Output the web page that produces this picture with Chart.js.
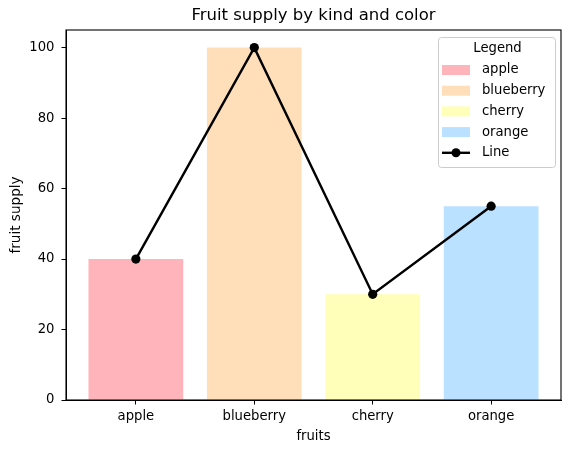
<!DOCTYPE html>
<html>
<head>
<meta charset="utf-8">
<script src="https://cdn.jsdelivr.net/npm/chart.js@4"></script>
<style>
  html, body { margin: 0; padding: 0; background: #fff; }
  #wrap { width: 571px; height: 453px; }
</style>
</head>
<body>
<div id="wrap"><canvas id="myChart"></canvas></div>
<script>
const fruits = ['apple', 'blueberry', 'cherry', 'orange'];
const supply = [40, 100, 30, 55];
const barColors = ['#ffb3ba', '#ffdfba', '#ffffba', '#bae1ff'];
const yTicks = [0, 20, 40, 60, 80, 100];
const chartTitle = 'Fruit supply by kind and color';

const FONT = 'DejaVu Sans';
const TICK_SIZE = 13.2;
const ctx = document.getElementById('myChart');

// frame, title over the axes and legend box like matplotlib
const framePlugin = {
  id: 'frame',
  afterDatasetsDraw(chart) {
    const a = chart.chartArea;
    const c = chart.ctx;
    c.save();
    c.strokeStyle = '#000';
    c.lineWidth = 1.1;
    c.strokeRect(a.left, a.top, a.right - a.left, a.bottom - a.top);
    c.restore();
  },
  afterDraw(chart) {
    const a = chart.chartArea;
    const c = chart.ctx;
    c.save();
    c.fillStyle = '#000';
    c.font = '16.5px "' + FONT + '"';
    c.textAlign = 'center';
    c.textBaseline = 'middle';
    c.fillText(chartTitle, (a.left + a.right) / 2, 15.5);

    const x0 = a.right - 123, y0 = a.top + 7, w = 117, h = 130;
    c.fillStyle = 'rgba(255,255,255,0.8)';
    c.strokeStyle = '#cccccc';
    c.lineWidth = 1;
    c.beginPath();
    c.roundRect(x0 + 0.5, y0 + 0.5, w, h, 3);
    c.fill();
    c.stroke();
    c.fillStyle = '#000';
    c.font = TICK_SIZE + 'px "' + FONT + '"';
    c.fillText('Legend', x0 + w / 2 + 1, y0 + 12);
    c.textAlign = 'left';
    const rowY = (i) => y0 + 33 + i * 20.7;
    fruits.forEach((f, i) => {
      c.fillStyle = barColors[i];
      c.fillRect(x0 + 4, rowY(i) - 5, 28, 10);
      c.fillStyle = '#000';
      c.fillText(f, x0 + 44, rowY(i));
    });
    const ly = rowY(fruits.length);
    c.strokeStyle = '#000';
    c.lineWidth = 2.4;
    c.beginPath();
    c.moveTo(x0 + 4, ly);
    c.lineTo(x0 + 32, ly);
    c.stroke();
    c.beginPath();
    c.arc(x0 + 18, ly, 4.5, 0, Math.PI * 2);
    c.fillStyle = '#000';
    c.fill();
    c.fillText('Line', x0 + 44, ly);
    c.restore();
  }
};

new Chart(ctx, {
  data: {
    datasets: [{
      type: 'line',
      label: 'Line',
      data: supply.map((v, i) => ({ x: i, y: v })),
      borderColor: '#000',
      backgroundColor: '#000',
      borderWidth: 2.4,
      pointRadius: 4.6,
      pointBorderWidth: 0,
      pointBackgroundColor: '#000',
      tension: 0
    }, {
      type: 'bar',
      label: 'supply',
      data: supply.map((v, i) => ({ x: i, y: v })),
      backgroundColor: barColors,
      borderWidth: 0,
      barPercentage: 0.8,
      categoryPercentage: 1.0
    }]
  },
  options: {
    responsive: true,
    maintainAspectRatio: false,
    animation: false,
    layout: { padding: { left: 0, right: 10, top: 30, bottom: 0 } },
    plugins: {
      legend: { display: false },
      tooltip: { enabled: false },
      title: { display: false }
    },
    scales: {
      x: {
        type: 'linear',
        offset: false,
        min: -0.59,
        max: 3.59,
        afterBuildTicks: (s) => { s.ticks = fruits.map((_, i) => ({ value: i })); },
        afterFit: (s) => { s.height = 53; },
        ticks: {
          color: '#000',
          font: { family: FONT, size: TICK_SIZE },
          padding: 4,
          callback: (v) => fruits[v]
        },
        grid: { offset: false, drawOnChartArea: false, drawTicks: true, tickLength: 4.5, color: '#000' },
        border: { display: true, color: '#000' },
        title: {
          display: true,
          text: 'fruits',
          color: '#000',
          font: { family: FONT, size: TICK_SIZE },
          padding: { top: 0, bottom: 9 }
        }
      },
      y: {
        min: 0,
        max: 105,
        afterBuildTicks: (s) => { s.ticks = yTicks.map((v) => ({ value: v })); },
        afterFit: (s) => { s.width = 66; },
        ticks: {
          color: '#000',
          font: { family: FONT, size: TICK_SIZE },
          padding: 7
        },
        grid: { drawOnChartArea: false, drawTicks: true, tickLength: 4.5, color: '#000' },
        border: { display: true, color: '#000' },
        title: {
          display: true,
          text: 'fruit supply',
          color: '#000',
          font: { family: FONT, size: 13.6 },
          padding: { top: 8, bottom: 0 }
        }
      }
    }
  },
  plugins: [framePlugin]
});
</script>
</body>
</html>
